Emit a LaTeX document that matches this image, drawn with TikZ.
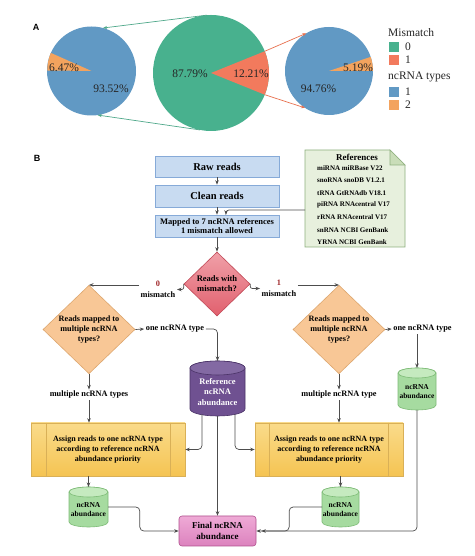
\documentclass[tikz,border=0pt]{standalone}
\usepackage{fontspec}
\setmainfont{Liberation Serif}
\newfontfamily\sanslab{Liberation Sans}
\usetikzlibrary{shapes.geometric, arrows.meta, calc}

\definecolor{pgreen}{HTML}{48B18E}
\definecolor{pred}{HTML}{F27A5D}
\definecolor{pblue}{HTML}{6199C4}
\definecolor{porange}{HTML}{F3A35E}
\definecolor{gcon}{HTML}{4FA88A}
\definecolor{rcon}{HTML}{E8714F}
\definecolor{linegray}{HTML}{4D4D4D}
\definecolor{fbfill}{HTML}{C8DBF1}
\definecolor{fbborder}{HTML}{86AAD8}
\definecolor{notefill}{HTML}{E7F0DD}
\definecolor{noteborder}{HTML}{8FB07E}
\definecolor{foldfill}{HTML}{C9DDB8}
\definecolor{rdtop}{HTML}{F0A0A8}
\definecolor{rdbot}{HTML}{E1606E}
\definecolor{rdborder}{HTML}{C24A58}
\definecolor{odfill}{HTML}{F8C796}
\definecolor{odborder}{HTML}{DDA66E}
\definecolor{ybtop}{HTML}{FADB8A}
\definecolor{ybbot}{HTML}{F5C453}
\definecolor{ybborder}{HTML}{D9B057}
\definecolor{gcbody}{HTML}{A6DBA0}
\definecolor{gctop}{HTML}{C5EABF}
\definecolor{gcborder}{HTML}{7DBB76}
\definecolor{pcbody}{HTML}{6F5191}
\definecolor{pctop}{HTML}{8369A3}
\definecolor{pcborder}{HTML}{4B3468}
\definecolor{fntop}{HTML}{EFAAD6}
\definecolor{fnbot}{HTML}{DC82BE}
\definecolor{fnborder}{HTML}{B0508E}
\definecolor{zeroc}{HTML}{A0282A}

\newcommand\mycyl[8]{%
  \pgfmathsetmacro\cxl{#2-#4/2}\pgfmathsetmacro\cxr{#2+#4/2}%
  \pgfmathsetmacro\cyt{#3+#5/2-#6}\pgfmathsetmacro\cyb{#3-#5/2+#6}%
  \pgfmathsetmacro\crx{#4/2}%
  \path[#7body] (\cxl,\cyt) -- (\cxl,\cyb) arc[start angle=180,end angle=360,x radius=\crx,y radius=#6] -- (\cxr,\cyt) arc[start angle=0,end angle=180,x radius=\crx,y radius=#6] -- cycle;
  \path[#7top] (#2,\cyt) ellipse[x radius=\crx, y radius=#6];
  \node[inner sep=0pt, outer sep=0pt, minimum width=#4pt, minimum height=#5pt] (#1) at (#2,#3) {};
  \node[#7text] (#1t) at (#2,{#3-#6/2}) {#8};
}

\begin{document}
\begin{tikzpicture}[x=1pt,y=1pt,
  piec/.style={circle, inner sep=0pt, outer sep=0pt},
  pielab/.style={font=\fontsize{11.5}{12}\selectfont, inner sep=0pt, text=black!85},
  gconn/.style={draw=gcon, line width=0.7pt, -{Stealth[length=4pt,width=3pt]}},
  rconn/.style={draw=rcon, line width=0.7pt, -{Stealth[length=4pt,width=3pt]}},
  legtitle/.style={font=\fontsize{11.5}{12}\selectfont, inner sep=0pt, anchor=west, text=black!85},
  legtxt/.style={font=\fontsize{11.5}{12}\selectfont, inner sep=0pt, anchor=west, text=black!85},
  legsq/.style={rectangle, minimum size=9.5pt, inner sep=0pt},
  panel/.style={font=\sanslab\bfseries\fontsize{9}{10}\selectfont, inner sep=0pt},
  fbox/.style={rectangle, draw=fbborder, fill=fbfill, line width=0.6pt, minimum width=124pt, inner sep=0pt, align=center, font=\bfseries\fontsize{10.5}{12}\selectfont},
  notestyle/.style={draw=noteborder, fill=notefill, line width=0.6pt},
  foldstyle/.style={draw=noteborder, fill=foldfill, line width=0.6pt},
  reftitle/.style={font=\bfseries\fontsize{9}{10}\selectfont, inner sep=0pt},
  reftext/.style={font=\bfseries\fontsize{7}{8}\selectfont, inner sep=0pt, anchor=west},
  arr/.style={draw=linegray, line width=0.7pt, -{Stealth[length=4.5pt,width=3.5pt]}},
  lab/.style={font=\bfseries\fontsize{8.3}{10.5}\selectfont, inner sep=1.5pt, align=center},
  rdiam/.style={diamond, aspect=1, inner sep=0pt, minimum width=66pt, minimum height=64pt, draw=rdborder, line width=0.6pt, top color=rdtop, bottom color=rdbot, align=center, font=\bfseries\fontsize{8.5}{10}\selectfont},
  odiam/.style={diamond, aspect=1, inner sep=0pt, minimum width=92pt, minimum height=75pt, draw=odborder, line width=0.6pt, fill=odfill, align=center, font=\bfseries\fontsize{8.2}{10.2}\selectfont},
  ybox/.style={rectangle, minimum height=53pt, inner sep=0pt, draw=ybborder, line width=0.6pt, top color=ybtop, bottom color=ybbot, align=center, font=\bfseries\fontsize{8}{9.8}\selectfont},
  finalbox/.style={rectangle, rounded corners=3pt, minimum width=77pt, minimum height=30pt, inner sep=0pt, draw=fnborder, line width=0.6pt, top color=fntop, bottom color=fnbot, align=center, font=\bfseries\fontsize{9}{10.5}\selectfont},
  gcylbody/.style={fill=gcbody, draw=gcborder, line width=0.6pt},
  gcyltop/.style={fill=gctop, draw=gcborder, line width=0.6pt},
  gcyltext/.style={font=\bfseries\fontsize{7.5}{9.5}\selectfont, align=center, inner sep=0pt},
  pcylbody/.style={fill=pcbody, draw=pcborder, line width=0.6pt},
  pcyltop/.style={fill=pctop, draw=pcborder, line width=0.6pt},
  pcyltext/.style={font=\bfseries\fontsize{8.5}{10.5}\selectfont, align=center, inner sep=0pt, text=white},
]
\useasboundingbox (0,0) rectangle (474,556);
\fill[white] (0,0) rectangle (474,556);

% ---------------- Panel A ----------------
\node[panel] (pa) at (36,529) {A};
\node[piec, minimum size=89pt] (lp) at (91.5,485) {};
\node[piec, minimum size=116pt] (cp) at (211,483) {};
\node[piec, minimum size=88pt] (rp) at (329,485) {};

\fill[pblue] (lp.center) circle[radius=44.5];
\fill[porange] (lp.center) -- (lp.156.7) arc[start angle=156.7, end angle=180, radius=44.5] -- cycle;
\fill[pgreen] (cp.center) circle[radius=58];
\fill[pred] (cp.center) -- (cp.-22) arc[start angle=-22, end angle=22, radius=58] -- cycle;
\fill[pblue] (rp.center) circle[radius=44];
\fill[porange] (rp.center) -- (rp.0) arc[start angle=0, end angle=18.7, radius=44] -- cycle;

\node[pielab] (l1) at (64,488) {6.47\%};
\node[pielab] (l2) at (111,467) {93.52\%};
\node[pielab] (l3) at (190,482) {87.79\%};
\node[pielab] (l4) at (251,482) {12.21\%};
\node[pielab] (l5) at (318.5,467) {94.76\%};
\node[pielab] (l6) at (358,488) {5.19\%};

\draw[gconn] (cp.94) -- (lp.75);
\draw[gconn] (cp.259) -- (lp.278);
\draw[rconn] (cp.22) -- (rp.121.6);
\draw[rconn] (cp.-22) -- (rp.237.7);

\node[legtitle] (lgm) at (388,523) {Mismatch};
\node[legsq, fill=pgreen] (sq0) at (394,509) {};
\node[legtxt] (t0) at (405,509) {0};
\node[legsq, fill=pred] (sq1) at (394,496) {};
\node[legtxt] (t1) at (405,496) {1};
\node[legtitle] (lgt) at (388,479) {ncRNA types};
\node[legsq, fill=pblue] (sq2) at (394,464) {};
\node[legtxt] (t2) at (405,464) {1};
\node[legsq, fill=porange] (sq3) at (394,451) {};
\node[legtxt] (t3) at (405,451) {2};

% ---------------- Panel B ----------------
\node[panel] (pb) at (37,398) {B};

\node[fbox, minimum height=21pt] (raw) at (217,389.5) {Raw reads};
\node[fbox, minimum height=22pt] (clean) at (217,360) {Clean reads};
\node[fbox, minimum height=22pt, font=\bfseries\fontsize{8.5}{9.8}\selectfont] (map) at (217,330) {Mapped to 7 ncRNA references\\1 mismatch allowed};

% references note
\node[inner sep=0pt, outer sep=0pt, minimum width=100pt, minimum height=97pt] (refs) at (355,357.5) {};
\path[notestyle] (refs.north west) -- ([xshift=-15pt]refs.north east) -- ([yshift=-15pt]refs.north east) -- (refs.south east) -- (refs.south west) -- cycle;
\path[foldstyle] ([xshift=-15pt]refs.north east) -- ([xshift=-15pt,yshift=-15pt]refs.north east) -- ([yshift=-15pt]refs.north east) -- cycle;
\node[reftitle] (rt) at (357,399) {References};
\foreach \t [count=\i] in {miRNA miRBase V22, snoRNA snoDB V1.2.1, tRNA GtRNAdb V18.1, piRNA RNAcentral V17, rRNA RNAcentral V17, snRNA NCBI GenBank, YRNA NCBI GenBank}
  \node[reftext] (r\i) at (317,{400.3-12.33*\i}) {\t};

\node[rdiam] (mm) at (217,272) {Reads with\\mismatch?};
\node[lab] (m0) at (158,266.5) {\textcolor{zeroc}{0}\\mismatch};
\node[lab] (m1) at (279,267.5) {\textcolor{zeroc}{1}\\mismatch};

\node[odiam] (ld) at (89,226.5) {Reads mapped to\\multiple ncRNA\\types?};
\node[odiam] (rd) at (339,226.5) {Reads mapped to\\multiple ncRNA\\types?};

\node[lab] (o1) at (175,227) {one ncRNA type};
\node[lab] (o2) at (422.5,227) {one ncRNA type};
\node[lab] (mt1) at (89,161) {multiple ncRNA types};
\node[lab] (mt2) at (339,161) {multiple ncRNA type};

\mycyl{refcyl}{217.5}{167.5}{55}{55}{7}{pcyl}{Reference\\ncRNA\\abundance}
\mycyl{rcylA}{417}{167}{38}{42}{5}{gcyl}{ncRNA\\abundance}
\mycyl{lcyl}{88.5}{49}{39}{40}{5}{gcyl}{ncRNA\\abundance}
\mycyl{rcyl}{340.5}{49}{37}{40}{5}{gcyl}{ncRNA\\abundance}

\node[ybox, minimum width=154pt] (lbox) at (108,106.5) {Assign reads to one ncRNA type\\according to reference ncRNA\\abundance priority};
\draw[draw=ybborder, line width=0.6pt] ([xshift=16pt]lbox.north west) -- ([xshift=16pt]lbox.south west);
\draw[draw=ybborder, line width=0.6pt] ([xshift=-15pt]lbox.north east) -- ([xshift=-15pt]lbox.south east);
\node[ybox, minimum width=148pt] (rbox) at (329,106.5) {Assign reads to one ncRNA type\\according to reference ncRNA\\abundance priority};
\draw[draw=ybborder, line width=0.6pt] ([xshift=15pt]rbox.north west) -- ([xshift=15pt]rbox.south west);
\draw[draw=ybborder, line width=0.6pt] ([xshift=-15pt]rbox.north east) -- ([xshift=-15pt]rbox.south east);

\node[finalbox] (final) at (217.5,25) {Final ncRNA\\abundance};

% connectors
\draw[arr] (raw.south) -- (clean.north);
\draw[arr] (clean.south) -- (map.north);
\draw[arr] (map.south) -- (mm.north);
\draw[arr, rounded corners=3pt] (refs.west |- 0,346) -| ([xshift=9pt]map.north);
\draw[arr, rounded corners=2pt] (mm.west) |- (m0.east);
\draw[arr] (m0.west |- ld.north) -- (ld.north);
\draw[arr, rounded corners=2pt] (mm.east) |- (m1.west);
\draw[arr] (m1.east |- rd.north) -- (rd.north);
\draw[arr] (ld.east) -- (o1.west);
\draw[arr, rounded corners=4pt] (o1.east) -| (refcyl.north);
\draw[arr] (ld.south) -- (mt1.north);
\draw[arr] (mt1.south) -- (mt1.south |- lbox.north);
\draw[arr] (lcyl.north |- lbox.south) -- (lcyl.north);
\draw[arr, rounded corners=4pt] (lcyl.east) -| ($(lcyl.east)!0.45!(final.west)$) |- (final.west);
\draw[arr] (refcyl.south) -- (final.north);
\draw[arr, rounded corners=4pt] ([xshift=-15.5pt,yshift=1.5pt]refcyl.south) |- (lbox.east);
\draw[arr, rounded corners=4pt] ([xshift=17.5pt,yshift=1.5pt]refcyl.south) |- (rbox.west);
\draw[arr] (rd.east) -- (o2.west);
\draw[arr] (o2.south -| rcylA.north) -- (rcylA.north);
\draw[arr] (rd.south) -- (mt2.north);
\draw[arr] (mt2.south) -- (mt2.south |- rbox.north);
\draw[arr] (rcyl.north |- rbox.south) -- (rcyl.north);
\draw[arr, rounded corners=4pt] (rcyl.west) -| ($(rcyl.west)!0.5!(final.east)$) |- (final.east);
\draw[arr, rounded corners=4pt, shorten >=5pt] (rcylA.south) |- (final.east);
\end{tikzpicture}
\end{document}
